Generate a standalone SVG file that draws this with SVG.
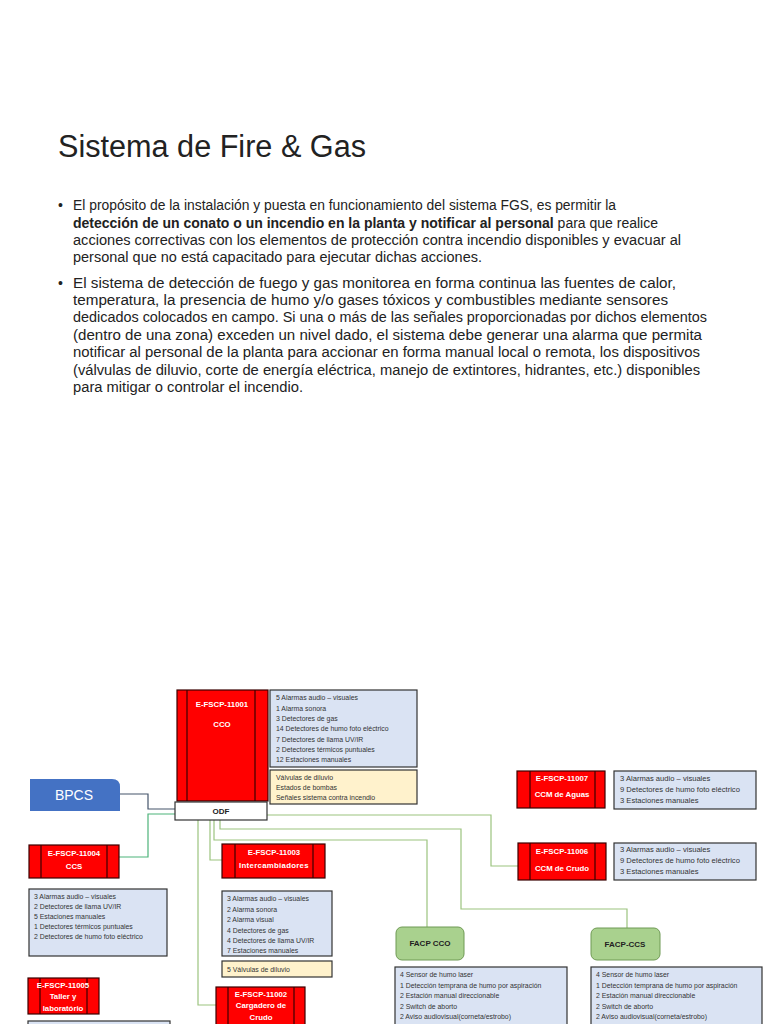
<svg xmlns="http://www.w3.org/2000/svg" width="768" height="1024" viewBox="0 0 768 1024">
<style>
.title{font-family:"Liberation Sans Narrow","Liberation Sans",Arial,sans-serif;font-size:31px;fill:#222;font-weight:300}
.body{font-family:"Liberation Sans Narrow","Liberation Sans",Arial,sans-serif;font-size:14px;fill:#222}
.b{font-weight:bold}
.red{fill:#FF0000;stroke:#3a0000;stroke-width:1.2}
.div{stroke:#3a0000;stroke-width:1.2}
.rt{font-family:"Liberation Sans",Arial,sans-serif;font-size:7.8px;font-weight:bold;fill:#fff;text-anchor:middle}
.lst{fill:#DAE3F3;stroke:#333;stroke-width:1.2}
.yel{fill:#FFF2CC;stroke:#333;stroke-width:1.2}
.lt{font-family:"Liberation Sans",Arial,sans-serif;font-size:6.9px;fill:#333}
.lt2{font-family:"Liberation Sans",Arial,sans-serif;font-size:7.6px;fill:#333}
.gr{fill:#A9D18E;stroke:#6F9A54;stroke-width:1}
.gt{font-family:"Liberation Sans",Arial,sans-serif;font-size:8px;font-weight:bold;fill:#222;text-anchor:middle}
.cg{fill:none;stroke:#9CC47F;stroke-width:1.2}
</style>
<rect width="768" height="1024" fill="#fff"/>
<g id="title">
<text class="title" x="58" y="157" textLength="308" lengthAdjust="spacingAndGlyphs">Sistema de Fire &amp; Gas</text>
</g>
<g id="text">
<text class="body" x="58" y="210">•</text>
<text class="body" x="73" y="210" textLength="543" lengthAdjust="spacingAndGlyphs">El propósito de la instalación y puesta en funcionamiento del sistema FGS, es permitir la</text>
<text class="body" x="73" y="228" textLength="585" lengthAdjust="spacingAndGlyphs"><tspan class="b">detección de un conato o un incendio en la planta y notificar al personal</tspan> para que realice</text>
<text class="body" x="73" y="245" textLength="608" lengthAdjust="spacingAndGlyphs">acciones correctivas con los elementos de protección contra incendio disponibles y evacuar al</text>
<text class="body" x="73" y="262" textLength="409" lengthAdjust="spacingAndGlyphs">personal que no está capacitado para ejecutar dichas acciones.</text>
<text class="body" x="58" y="288">•</text>
<text class="body" x="73" y="288" textLength="603" lengthAdjust="spacingAndGlyphs">El sistema de detección de fuego y gas monitorea en forma continua las fuentes de calor,</text>
<text class="body" x="73" y="305" textLength="595" lengthAdjust="spacingAndGlyphs">temperatura, la presencia de humo y/o gases tóxicos y combustibles mediante sensores</text>
<text class="body" x="73" y="322" textLength="634" lengthAdjust="spacingAndGlyphs">dedicados colocados en campo. Si una o más de las señales proporcionadas por dichos elementos</text>
<text class="body" x="73" y="340" textLength="629" lengthAdjust="spacingAndGlyphs">(dentro de una zona) exceden un nivel dado, el sistema debe generar una alarma que permita</text>
<text class="body" x="73" y="357" textLength="627" lengthAdjust="spacingAndGlyphs">notificar al personal de la planta para accionar en forma manual local o remota, los dispositivos</text>
<text class="body" x="73" y="375" textLength="627" lengthAdjust="spacingAndGlyphs">(válvulas de diluvio, corte de energía eléctrica, manejo de extintores, hidrantes, etc.) disponibles</text>
<text class="body" x="73" y="392" textLength="230" lengthAdjust="spacingAndGlyphs">para mitigar o controlar el incendio.</text>
</g>
<g id="connectors">
<polyline points="120,794 148,794 148,809 175,809" fill="none" stroke="#44546A" stroke-width="1.2"/>
<polyline points="175,814 148,814 148,857 119,857" fill="none" stroke="#4DB37A" stroke-width="1.2"/>
<polyline class="cg" points="198,820 198,1005 216,1005"/>
<polyline class="cg" points="210,820 210,860 222,860"/>
<polyline class="cg" points="214,820 214,840 427,840 427,927"/>
<polyline class="cg" points="220,820 220,829 461,829 461,909 627,909 627,928"/>
<polyline class="cg" points="267,815 491,815 491,866 518,866"/>
</g>
<g id="n11001">
<rect class="red" x="177" y="690" width="91" height="111"/>
<line class="div" x1="187" y1="690" x2="187" y2="801"/>
<line class="div" x1="255" y1="690" x2="255" y2="801"/>
<text class="rt" x="222" y="707">E-FSCP-11001</text>
<text class="rt" x="222" y="727">CCO</text>
</g>
<g id="l11001">
<rect class="lst" x="270" y="690" width="147" height="77"/>
<text class="lt" x="276" y="700">5 Alarmas audio – visuales</text>
<text class="lt" x="276" y="710.5">1 Alarma sonora</text>
<text class="lt" x="276" y="721">3 Detectores de gas</text>
<text class="lt" x="276" y="731">14 Detectores de humo foto eléctrico</text>
<text class="lt" x="276" y="741.5">7 Detectores de llama UV/IR</text>
<text class="lt" x="276" y="752">2 Detectores térmicos puntuales</text>
<text class="lt" x="276" y="762">12 Estaciones manuales</text>
</g>
<g id="y11001">
<rect class="yel" x="270" y="770" width="147" height="34"/>
<text class="lt" x="276" y="779.5">Válvulas de diluvio</text>
<text class="lt" x="276" y="790">Estados de bombas</text>
<text class="lt" x="276" y="800">Señales sistema contra incendio</text>
</g>
<g id="odf">
<rect x="175" y="802" width="92" height="18" fill="#fff" stroke="#333" stroke-width="1.2"/>
<text class="gt" x="221" y="814">ODF</text>
</g>
<g id="bpcs">
<path d="M30,779 H112 Q120,779 120,787 V811 H30 Z" fill="#4472C4"/>
<text x="74" y="800" font-family="Liberation Sans,Arial,sans-serif" font-size="14" fill="#fff" text-anchor="middle">BPCS</text>
</g>
<g id="n11004">
<rect class="red" x="29" y="845" width="90" height="33"/>
<line class="div" x1="41" y1="845" x2="41" y2="878"/>
<line class="div" x1="107" y1="845" x2="107" y2="878"/>
<text class="rt" x="74" y="856">E-FSCP-11004</text>
<text class="rt" x="74" y="869">CCS</text>
</g>
<g id="l11004">
<rect class="lst" x="29" y="889" width="138" height="67"/>
<text class="lt" x="34" y="899">3 Alarmas audio – visuales</text>
<text class="lt" x="34" y="909">2 Detectores de llama UV/IR</text>
<text class="lt" x="34" y="919">5 Estaciones manuales</text>
<text class="lt" x="34" y="929">1 Detectores térmicos puntuales</text>
<text class="lt" x="34" y="939">2 Detectores de humo foto eléctrico</text>
</g>
<g id="n11005">
<rect class="red" x="28" y="978" width="71" height="36"/>
<line class="div" x1="40" y1="978" x2="40" y2="1014"/>
<line class="div" x1="87" y1="978" x2="87" y2="1014"/>
<text class="rt" x="63" y="988">E-FSCP-11005</text>
<text class="rt" x="63" y="999">Taller y</text>
<text class="rt" x="63" y="1011">laboratório</text>
</g>
<g id="l11005">
<rect class="lst" x="28" y="1021" width="142" height="10"/>
</g>
<g id="n11003">
<rect class="red" x="222" y="844" width="103" height="34"/>
<line class="div" x1="235" y1="844" x2="235" y2="878"/>
<line class="div" x1="313" y1="844" x2="313" y2="878"/>
<text class="rt" x="274" y="855">E-FSCP-11003</text>
<text class="rt" x="274" y="868" letter-spacing="0.3">Intercambiadores</text>
</g>
<g id="l11002">
<rect class="lst" x="222" y="891" width="110" height="65"/>
<text class="lt" x="227" y="901">3 Alarmas audio – visuales</text>
<text class="lt" x="227" y="912">2 Alarma sonora</text>
<text class="lt" x="227" y="922">2 Alarma visual</text>
<text class="lt" x="227" y="933">4 Detectores de gas</text>
<text class="lt" x="227" y="943">4 Detectores de llama UV/IR</text>
<text class="lt" x="227" y="953">7 Estaciones manuales</text>
</g>
<g id="y11002">
<rect class="yel" x="222" y="961" width="110" height="16"/>
<text class="lt" x="227" y="971.5">5 Válvulas de diluvio</text>
</g>
<g id="n11002">
<rect class="red" x="216" y="987" width="89" height="40"/>
<line class="div" x1="228" y1="987" x2="228" y2="1024"/>
<line class="div" x1="294" y1="987" x2="294" y2="1024"/>
<text class="rt" x="261" y="997">E-FSCP-11002</text>
<text class="rt" x="261" y="1008">Cargadero de</text>
<text class="rt" x="261" y="1020">Crudo</text>
</g>
<g id="n11007">
<rect class="red" x="517" y="771" width="88" height="37"/>
<line class="div" x1="530" y1="771" x2="530" y2="808"/>
<line class="div" x1="595" y1="771" x2="595" y2="808"/>
<text class="rt" x="562" y="781">E-FSCP-11007</text>
<text class="rt" x="562" y="797">CCM de Aguas</text>
</g>
<g id="l11007">
<rect class="lst" x="614" y="771" width="142" height="38"/>
<text class="lt2" x="620" y="781">3 Alarmas audio – visuales</text>
<text class="lt2" x="620" y="792">9 Detectores de humo foto eléctrico</text>
<text class="lt2" x="620" y="803">3 Estaciones manuales</text>
</g>
<g id="n11006">
<rect class="red" x="518" y="843" width="88" height="37"/>
<line class="div" x1="530" y1="843" x2="530" y2="880"/>
<line class="div" x1="595" y1="843" x2="595" y2="880"/>
<text class="rt" x="562" y="854">E-FSCP-11006</text>
<text class="rt" x="562" y="871">CCM de Crudo</text>
</g>
<g id="l11006">
<rect class="lst" x="614" y="843" width="142" height="37"/>
<text class="lt2" x="620" y="852">3 Alarmas audio – visuales</text>
<text class="lt2" x="620" y="863">9 Detectores de humo foto eléctrico</text>
<text class="lt2" x="620" y="874">3 Estaciones manuales</text>
</g>
<g id="facpcco">
<rect class="gr" x="396" y="927" width="68" height="33" rx="6"/>
<text class="gt" x="430" y="946">FACP CCO</text>
</g>
<g id="lfacpcco">
<rect class="lst" x="395" y="967" width="172" height="65"/>
<text class="lt" x="400" y="977">4 Sensor de humo laser</text>
<text class="lt" x="400" y="988">1 Detección temprana de humo por aspiración</text>
<text class="lt" x="400" y="998">2 Estación manual direccionable</text>
<text class="lt" x="400" y="1009">2 Switch de aborto</text>
<text class="lt" x="400" y="1019">2 Aviso audiovisual(corneta/estrobo)</text>
</g>
<g id="facpccs">
<rect class="gr" x="591" y="928" width="69" height="32" rx="6"/>
<text class="gt" x="625" y="947">FACP-CCS</text>
</g>
<g id="lfacpccs">
<rect class="lst" x="591" y="967" width="171" height="65"/>
<text class="lt" x="596" y="977">4 Sensor de humo laser</text>
<text class="lt" x="596" y="988">1 Detección temprana de humo por aspiración</text>
<text class="lt" x="596" y="998">2 Estación manual direccionable</text>
<text class="lt" x="596" y="1009">2 Switch de aborto</text>
<text class="lt" x="596" y="1019">2 Aviso audiovisual(corneta/estrobo)</text>
</g>
</svg>
